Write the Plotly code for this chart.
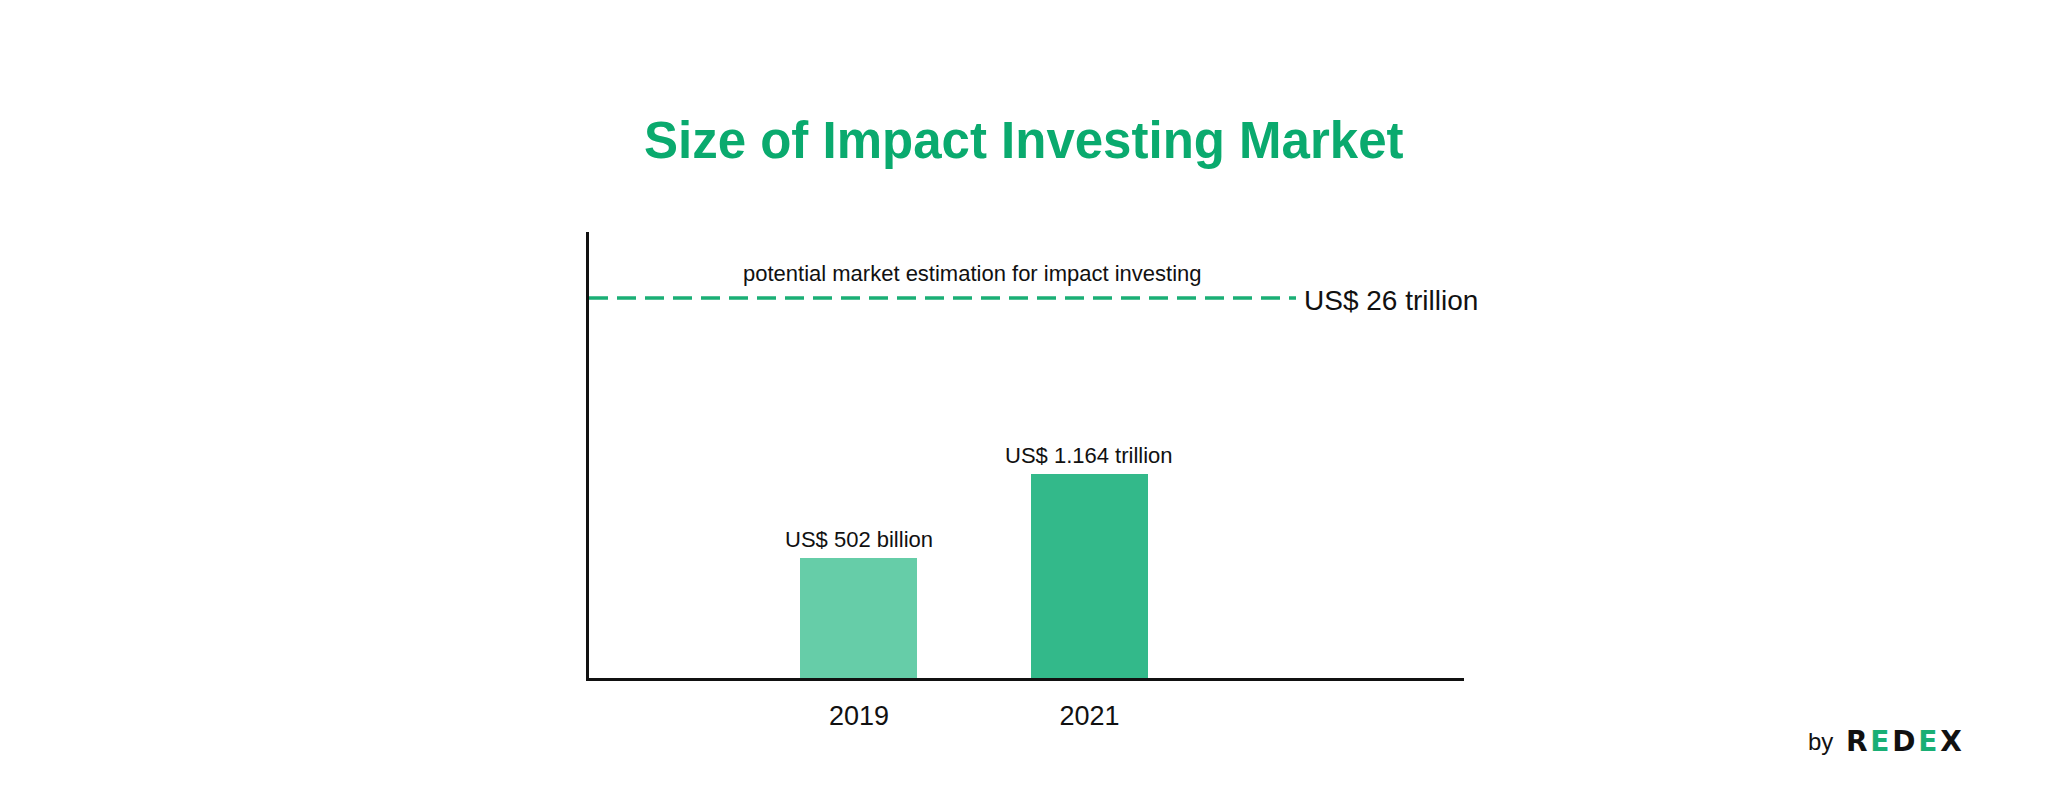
import plotly.graph_objects as go

# ---- data (heights are relative visual heights) ----
years = ["2019", "2021"]
bar_heights = [120, 204]
bar_labels = ["US$ 502 billion", "US$ 1.164 trillion"]
bar_colors = ["#66CDA8", "#33B98A"]
potential_height = [380]
potential_label = ["US$ 26 trillion"]
potential_note = ["potential market estimation for impact investing"]
title_text = "Size of Impact Investing Market"

GREEN = "#0AAA6E"
FONT = "Liberation Sans, Arial, sans-serif"
W, H = 2048, 801

fig = go.Figure()
fig.add_trace(go.Bar(
    x=years, y=bar_heights, marker=dict(color=bar_colors, line=dict(width=0)),
    width=0.508, hoverinfo="skip", showlegend=False,
))

for i, (h, lab) in enumerate(zip(bar_heights, bar_labels)):
    fig.add_annotation(x=i, y=h, text=lab, showarrow=False, xref="x", yref="y",
                       yanchor="bottom", yshift=4,
                       font=dict(family=FONT, size=22, color="#111111"))

# dashed potential line
fig.add_shape(type="line", xref="paper", yref="y", x0=589 / W, x1=1296 / W,
              y0=potential_height[0], y1=potential_height[0],
              line=dict(color="#1AAF75", width=3.5, dash="19px,9px"))
fig.add_annotation(xref="paper", yref="y", x=1302 / W, y=potential_height[0],
                   text=potential_label[0], showarrow=False, xanchor="left",
                   yanchor="middle", yshift=-2,
                   font=dict(family=FONT, size=28, color="#111111"))
fig.add_annotation(xref="paper", yref="y", x=972 / W, y=potential_height[0],
                   text=potential_note[0], showarrow=False, xanchor="center",
                   yanchor="bottom", yshift=10,
                   font=dict(family=FONT, size=22, color="#111111"))

# title
fig.add_annotation(xref="paper", yref="paper", x=0.5, y=1 - 140 / H,
                   text="<b>" + title_text + "</b>", showarrow=False,
                   xanchor="center", yanchor="middle",
                   font=dict(family=FONT, size=51, color=GREEN))

# by REDEX logo
fig.add_annotation(xref="paper", yref="paper", x=1806 / W, y=1 - 741 / H,
                   text="by", showarrow=False, xanchor="left", yanchor="middle",
                   font=dict(family=FONT, size=24, color="#111111"))
hs = "\u200a"
logo = ("<b>R" + hs + "<span style='color:#1AAF75'>E</span>" + hs + "D" + hs +
        "<span style='color:#1AAF75'>E</span>" + hs + "X</b>")
fig.add_annotation(xref="paper", yref="paper", x=1844 / W, y=1 - 741 / H,
                   text=logo, showarrow=False, xanchor="left", yanchor="middle",
                   font=dict(family="DejaVu Sans, sans-serif", size=28, color="#111111"))

fig.update_layout(
    width=W, height=H, autosize=False,
    margin=dict(l=0, r=0, t=0, b=0),
    paper_bgcolor="white", plot_bgcolor="white",
    xaxis=dict(type="category", domain=[589 / W, 1464 / W],
               range=[-1.171, 2.625], showline=True, linecolor="#111111",
               linewidth=3, showgrid=False, zeroline=False, ticks="",
               ticklabelstandoff=12,
               tickfont=dict(family=FONT, size=27, color="#111111")),
    yaxis=dict(domain=[1 - 678 / H, 1 - 232 / H], range=[0, 446],
               showline=True, linecolor="#111111", linewidth=3,
               showgrid=False, zeroline=False, showticklabels=False, ticks=""),
    bargap=0,
)

fig.write_html("out.html")
